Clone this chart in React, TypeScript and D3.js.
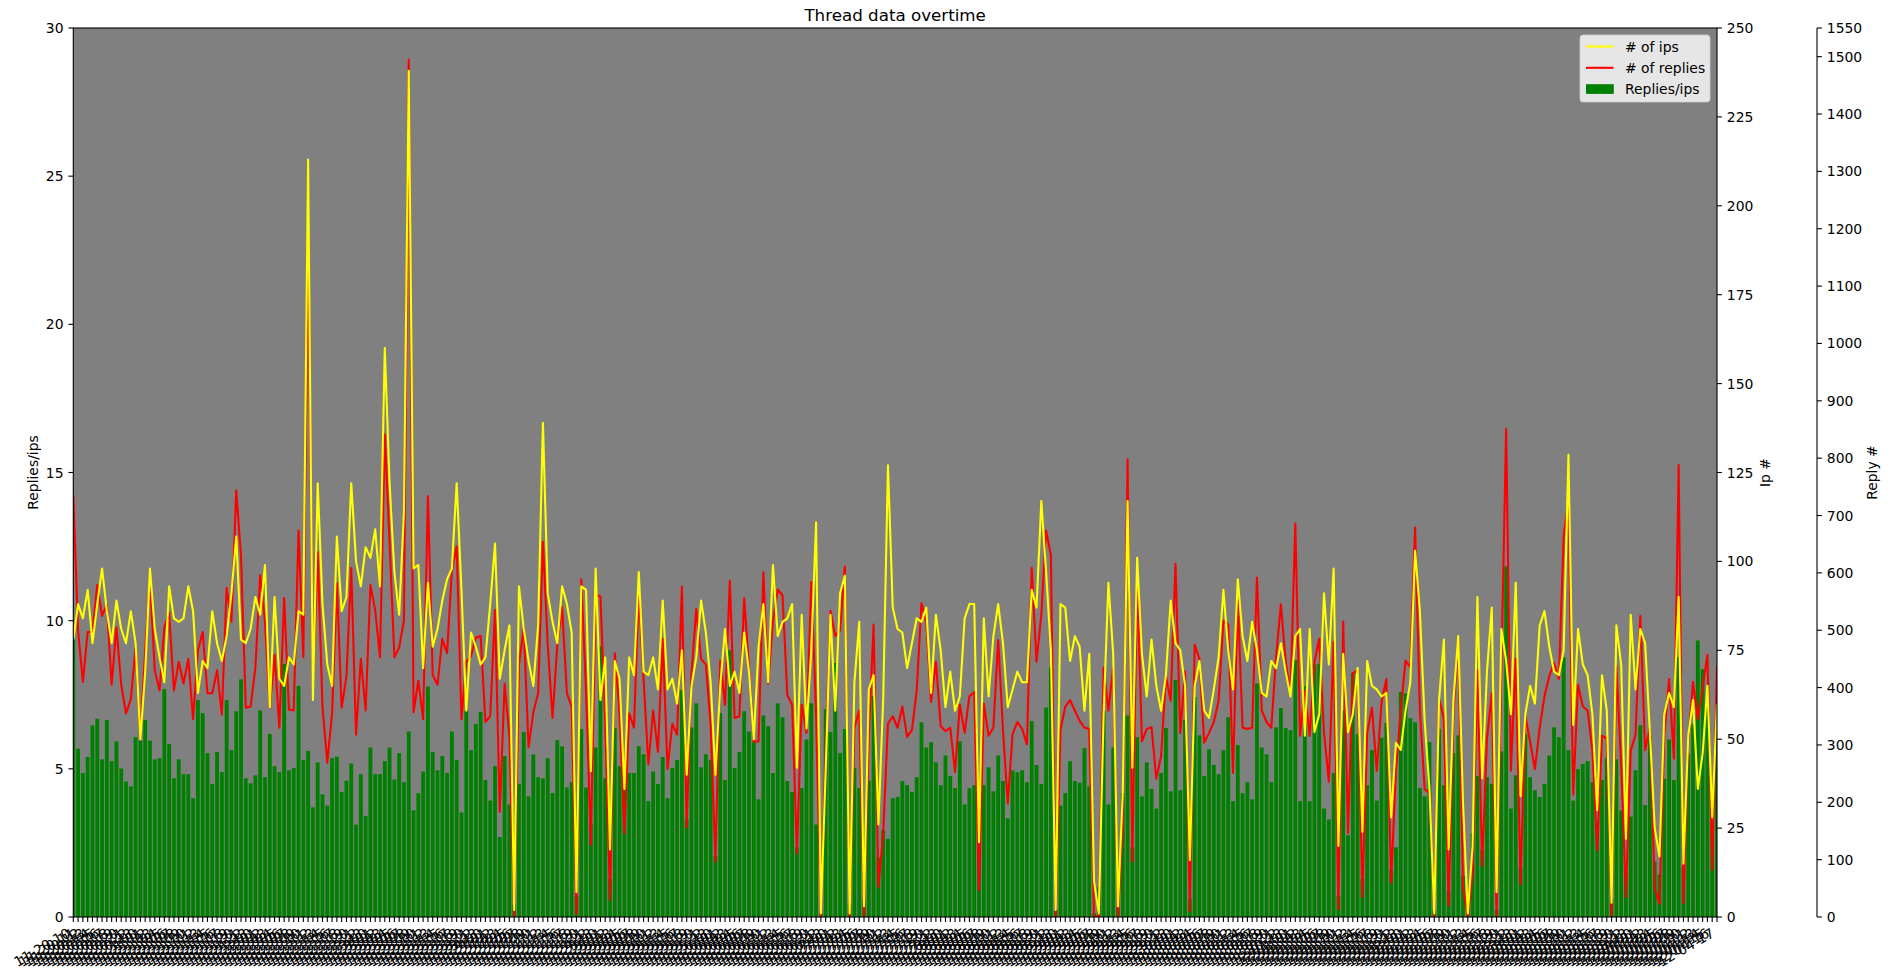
import React from "react";
import * as d3 from "d3";

// ---- data (index = time slot) ----
const ips: number[] = [
  78, 88, 84, 92, 77, 88, 98, 86, 77, 89,
  81, 77, 86, 77, 50, 69, 98, 81, 73, 66,
  93, 84, 83, 84, 93, 86, 63, 72, 70, 86,
  77, 72, 79, 91, 107, 78, 77, 81, 90, 85,
  99, 59, 90, 67, 65, 73, 71, 86, 85, 213,
  61, 122, 88, 71, 65, 107, 86, 90, 122, 100,
  93, 104, 101, 109, 93, 160, 122, 97, 85, 114,
  238, 98, 99, 70, 94, 76, 81, 89, 95, 98,
  122, 92, 58, 80, 76, 71, 73, 88, 105, 67,
  75, 82, 2, 93, 81, 72, 65, 82, 139, 91,
  83, 77, 93, 88, 80, 7, 93, 92, 41, 98,
  61, 73, 19, 72, 67, 36, 73, 68, 97, 69,
  68, 73, 64, 89, 64, 67, 60, 75, 40, 65,
  73, 89, 80, 66, 40, 65, 81, 65, 69, 63,
  80, 69, 50, 76, 88, 66, 99, 79, 83, 84,
  88, 42, 85, 53, 75, 111, 1, 41, 85, 58,
  91, 96, 1, 66, 83, 3, 64, 68, 26, 61,
  127, 87, 81, 80, 70, 77, 84, 83, 87, 63,
  85, 75, 59, 69, 58, 62, 84, 88, 88, 21,
  84, 62, 79, 88, 77, 59, 64, 69, 66, 66,
  92, 87, 117, 97, 75, 2, 88, 87, 72, 79,
  76, 58, 74, 10, 1, 57, 94, 74, 3, 35,
  117, 42, 101, 74, 62, 78, 65, 58, 68, 89,
  77, 75, 65, 16, 65, 72, 58, 56, 64, 73,
  92, 75, 64, 95, 79, 72, 83, 75, 63, 62,
  72, 70, 77, 69, 62, 79, 81, 51, 81, 52,
  57, 91, 71, 98, 20, 74, 52, 57, 70, 24,
  72, 65, 64, 62, 63, 28, 49, 47, 58, 66,
  103, 86, 55, 36, 1, 61, 78, 19, 61, 79,
  32, 1, 20, 90, 39, 69, 87, 7, 81, 72,
  57, 94, 34, 57, 65, 60, 82, 86, 76, 69,
  68, 75, 130, 54, 81, 71, 68, 57, 30, 68,
  58, 4, 82, 71, 22, 85, 64, 81, 77, 52,
  25, 17, 57, 63, 59, 90, 15, 51, 61, 36,
  46, 65, 28, 60,
];

const replies: number[] = [
  735, 499, 410, 497, 497, 579, 525, 545, 405, 505,
  405, 355, 380, 470, 311, 465, 589, 430, 395, 505,
  530, 395, 445, 407, 450, 345, 465, 497, 390, 390,
  430, 353, 574, 515, 744, 629, 365, 367, 435, 596,
  515, 365, 457, 330, 556, 362, 360, 674, 453, 1194,
  413, 636, 367, 269, 355, 582, 365, 420, 609, 318,
  450, 360, 579, 535, 453, 841, 654, 453, 470, 517,
  1495, 357, 412, 345, 734, 422, 405, 485, 460, 604,
  646, 345, 445, 455, 487, 490, 340, 350, 535, 183,
  407, 316, 1, 440, 505, 296, 357, 390, 654, 475,
  347, 475, 540, 390, 367, 5, 589, 395, 126, 562,
  559, 340, 30, 460, 355, 146, 355, 330, 569, 415,
  266, 360, 288, 485, 258, 337, 318, 576, 156, 425,
  537, 450, 440, 335, 97, 447, 370, 586, 347, 350,
  556, 435, 306, 306, 601, 407, 515, 571, 561, 387,
  370, 111, 370, 321, 584, 355, 0, 286, 534, 490,
  500, 611, 1, 330, 360, 2, 316, 510, 52, 146,
  337, 350, 330, 367, 314, 326, 395, 547, 515, 375,
  445, 333, 324, 330, 253, 370, 321, 385, 392, 47,
  372, 316, 330, 483, 326, 198, 319, 340, 328, 301,
  609, 445, 527, 674, 631, 1, 326, 367, 378, 360,
  342, 330, 328, 1, 1, 435, 360, 435, 1, 166,
  798, 97, 594, 306, 328, 331, 241, 281, 420, 377,
  616, 321, 428, 10, 475, 450, 304, 321, 340, 377,
  517, 510, 251, 554, 330, 328, 330, 592, 360, 340,
  330, 455, 545, 445, 390, 686, 316, 395, 316, 445,
  485, 321, 236, 480, 14, 515, 146, 425, 430, 35,
  321, 365, 255, 375, 415, 60, 255, 360, 447, 435,
  679, 360, 223, 216, 1, 380, 347, 20, 355, 485,
  52, 0, 77, 430, 89, 311, 390, 2, 435, 851,
  255, 450, 57, 350, 306, 258, 330, 385, 420, 443,
  415, 664, 724, 213, 405, 367, 360, 291, 116, 316,
  311, 3, 437, 266, 35, 290, 318, 525, 291, 330,
  50, 23, 316, 415, 276, 788, 24, 306, 410, 345,
  400, 457, 82, 437,
];

const repliesPerIp: number[] = [
  9.4, 5.68, 4.86, 5.4, 6.47, 6.69, 5.32, 6.65, 5.26, 5.93,
  5.01, 4.57, 4.41, 6.07, 5.95, 6.65, 5.95, 5.32, 5.36, 7.69,
  5.84, 4.68, 5.32, 4.82, 4.82, 4.01, 7.32, 6.88, 5.53, 4.49,
  5.57, 4.89, 7.32, 5.63, 6.94, 8.02, 4.68, 4.51, 4.78, 6.97,
  4.72, 6.18, 5.09, 4.89, 8.54, 4.95, 5.03, 7.8, 5.3, 5.61,
  3.7, 5.22, 4.14, 3.76, 5.36, 5.41, 4.22, 4.6, 5.18, 3.12,
  4.82, 3.41, 5.72, 4.82, 4.82, 5.26, 5.72, 4.64, 5.53, 4.55,
  6.26, 3.6, 4.18, 4.91, 7.78, 5.57, 4.95, 5.43, 4.86, 6.26,
  5.3, 3.53, 6.97, 5.63, 6.51, 6.92, 4.62, 3.93, 5.09, 2.7,
  5.43, 3.8, 0.42, 4.49, 6.24, 4.07, 5.49, 4.72, 4.68, 5.36,
  4.18, 5.97, 5.76, 4.37, 4.55, 0.71, 6.34, 4.37, 3.12, 5.72,
  9.13, 4.68, 1.29, 6.38, 5.09, 4.37, 4.86, 4.86, 5.76, 5.49,
  3.91, 4.91, 4.49, 5.4, 4.01, 5.03, 5.3, 7.65, 3.31, 6.4,
  7.21, 5.05, 5.49, 5.3, 2.06, 6.88, 4.62, 9.0, 5.03, 5.57,
  6.94, 6.26, 5.92, 3.97, 6.8, 6.44, 4.86, 7.21, 6.74, 4.59,
  4.22, 2.35, 4.35, 5.99, 7.21, 3.12, 0.13, 7.01, 6.24, 8.57,
  5.53, 6.34, 0.42, 5.03, 4.35, 0.62, 4.6, 7.46, 2.0, 2.93,
  2.64, 4.01, 4.05, 4.59, 4.45, 4.22, 4.72, 6.57, 5.72, 5.9,
  5.22, 4.45, 5.45, 4.76, 4.35, 5.93, 3.8, 4.35, 4.45, 2.45,
  4.45, 5.05, 4.24, 5.45, 4.59, 3.33, 4.95, 4.89, 4.95, 4.55,
  6.61, 5.13, 4.49, 7.07, 8.42, 0.23, 3.76, 4.18, 5.26, 4.59,
  4.53, 5.7, 4.41, 0.13, 1.0, 6.97, 3.8, 5.72, 0.33, 4.18,
  6.8, 2.35, 6.07, 4.07, 5.22, 4.32, 3.66, 4.86, 6.38, 4.24,
  8.0, 4.28, 6.65, 0.62, 7.42, 6.13, 4.76, 5.66, 5.13, 4.82,
  5.63, 6.74, 3.91, 5.8, 4.18, 4.55, 3.97, 7.88, 5.72, 5.49,
  4.55, 6.4, 7.05, 6.38, 6.3, 8.67, 3.91, 7.78, 3.91, 8.52,
  8.54, 3.66, 3.29, 4.86, 0.71, 6.97, 2.76, 8.23, 6.17, 1.29,
  4.45, 5.63, 3.93, 6.05, 6.55, 1.58, 2.35, 7.59, 7.55, 6.71,
  6.57, 4.35, 4.07, 5.9, 0.23, 6.34, 4.45, 0.9, 5.53, 6.13,
  1.39, 0.23, 2.83, 4.76, 2.29, 4.72, 4.49, 0.23, 5.59, 11.83,
  3.66, 4.78, 1.68, 6.17, 4.72, 4.28, 4.05, 4.49, 5.45, 6.4,
  6.07, 8.77, 5.63, 3.93, 4.99, 5.16, 5.26, 4.55, 3.22, 4.62,
  5.36, 0.62, 5.32, 3.6, 1.48, 3.39, 4.95, 6.47, 3.78, 6.11,
  1.87, 1.43, 4.66, 5.99, 4.62, 8.77, 1.68, 5.5, 6.5, 9.33,
  8.36, 7.13, 3.08, 7.0,
];

// x tick labels (one per slot; unreadable in the reference, hourly stamps)
const labelStart = new Date(2019, 10, 20, 10);
const labelFormat = d3.timeFormat("%m-%d %H");
const xTickLabels: string[] = ips.map((_, i) => labelFormat(d3.timeHour.offset(labelStart, i)));

const leftTicks = [0, 5, 10, 15, 20, 25, 30];
const ipTicks = [0, 25, 50, 75, 100, 125, 150, 175, 200, 225, 250];
const replyTicks = [0, 100, 200, 300, 400, 500, 600, 700, 800, 900, 1000, 1100, 1200, 1300, 1400, 1500, 1550];

const legendItems = [
  { label: "# of ips", color: "#ffff00", kind: "line" },
  { label: "# of replies", color: "#ff0000", kind: "line" },
  { label: "Replies/ips", color: "#008000", kind: "patch" },
];

export default function App() {
  const W = 1904, H = 978;
  const L = 73.3, R = 1717, T = 28, B = 917;
  const replyAxisX = 1817;
  const fs = 13.9;
  const tickLen = 4.9;
  const font = "DejaVu Sans, sans-serif";

  const x = d3.scaleLinear().domain([0, ips.length - 1]).range([L, R]);
  const yLeft = d3.scaleLinear().domain([0, 30]).range([B, T]);
  const yIp = d3.scaleLinear().domain([0, 250]).range([B, T]);
  const yRep = d3.scaleLinear().domain([0, 1550]).range([B, T]);
  const step = x(1) - x(0);
  const bw = step * 0.8;

  const ipLine = d3.line<number>().x((_, i) => x(i)).y((d) => yIp(d))(ips) || "";
  const repLine = d3.line<number>().x((_, i) => x(i)).y((d) => yRep(d))(replies) || "";

  const labelY = B + tickLen + 4.9;

  return (
    <div style={{ position: "absolute", left: 0, top: 0 }}>
      <svg width={W} height={H} style={{ display: "block", background: "#fff" }} fontFamily={font}>
        <defs>
          <clipPath id="plotClip">
            <rect x={L} y={T} width={R - L} height={B - T} />
          </clipPath>
        </defs>
        <rect x={L} y={T} width={R - L} height={B - T} fill="#808080" />
        <g clipPath="url(#plotClip)">
          {repliesPerIp.map((v, i) => (
            <rect key={i} x={x(i) - bw / 2} y={yLeft(v)} width={bw} height={B - yLeft(v)} fill="#008000" />
          ))}
          <path d={repLine} fill="none" stroke="#ff0000" strokeWidth={2.08} strokeLinejoin="round" />
          <path d={ipLine} fill="none" stroke="#ffff00" strokeWidth={2.08} strokeLinejoin="round" />
        </g>
        <rect x={L} y={T} width={R - L} height={B - T} fill="none" stroke="#000" strokeWidth={1.1} />

        {/* x ticks */}
        {ips.map((_, i) => (
          <line key={"xt" + i} x1={x(i)} x2={x(i)} y1={B} y2={B + tickLen} stroke="#000" strokeWidth={1.1} />
        ))}
        {xTickLabels.map((t, i) => {
          const ax = x(i) - 1.7;
          const ay = labelY + 9.2;
          return (
            <text key={"xl" + i} x={ax} y={ay} fontSize={fs} textAnchor="end" transform={`rotate(-30 ${ax} ${ay})`} fill="#000">
              {t}
            </text>
          );
        })}

        {/* left axis */}
        {leftTicks.map((t) => (
          <g key={"lt" + t}>
            <line x1={L - tickLen} x2={L} y1={yLeft(t)} y2={yLeft(t)} stroke="#000" strokeWidth={1.1} />
            <text x={L - tickLen - 4.9} y={yLeft(t)} fontSize={fs} textAnchor="end" dominantBaseline="central">
              {t}
            </text>
          </g>
        ))}
        <text x={32.8} y={(T + B) / 2} fontSize={fs} textAnchor="middle" dominantBaseline="central" transform={`rotate(-90 32.8 ${(T + B) / 2})`}>
          Replies/ips
        </text>

        {/* Ip axis (right spine) */}
        {ipTicks.map((t) => (
          <g key={"it" + t}>
            <line x1={R} x2={R + tickLen} y1={yIp(t)} y2={yIp(t)} stroke="#000" strokeWidth={1.1} />
            <text x={R + tickLen + 4.9} y={yIp(t)} fontSize={fs} textAnchor="start" dominantBaseline="central">
              {t}
            </text>
          </g>
        ))}
        <text x={1765} y={(T + B) / 2} fontSize={fs} textAnchor="middle" dominantBaseline="central" transform={`rotate(-90 1765 ${(T + B) / 2})`}>
          Ip #
        </text>

        {/* Reply axis (offset spine) */}
        <line x1={replyAxisX} x2={replyAxisX} y1={T} y2={B} stroke="#000" strokeWidth={1.1} />
        {replyTicks.map((t) => (
          <g key={"rt" + t}>
            <line x1={replyAxisX} x2={replyAxisX + tickLen} y1={yRep(t)} y2={yRep(t)} stroke="#000" strokeWidth={1.1} />
            <text x={replyAxisX + tickLen + 4.9} y={yRep(t)} fontSize={fs} textAnchor="start" dominantBaseline="central">
              {t}
            </text>
          </g>
        ))}
        <text x={1872} y={(T + B) / 2} fontSize={fs} textAnchor="middle" dominantBaseline="central" transform={`rotate(-90 1872 ${(T + B) / 2})`}>
          Reply #
        </text>

        {/* title */}
        <text x={(L + R) / 2} y={20.5} fontSize={16.7} textAnchor="middle">
          Thread data overtime
        </text>

        {/* legend */}
        <g>
          <rect x={1580} y={35} width={130} height={67} rx={3} fill="#ffffff" fillOpacity={0.8} stroke="#cccccc" strokeOpacity={0.8} strokeWidth={1} />
          {legendItems.map((it, k) => {
            const cy = 46.5 + k * 21.3;
            return (
              <g key={it.label}>
                {it.kind === "line" ? (
                  <line x1={1586} x2={1613.5} y1={cy} y2={cy} stroke={it.color} strokeWidth={2.08} />
                ) : (
                  <rect x={1586} y={cy - 4.9} width={27.8} height={9.7} fill={it.color} />
                )}
                <text x={1625} y={cy} fontSize={fs} dominantBaseline="central">
                  {it.label}
                </text>
              </g>
            );
          })}
        </g>
      </svg>
    </div>
  );
}
